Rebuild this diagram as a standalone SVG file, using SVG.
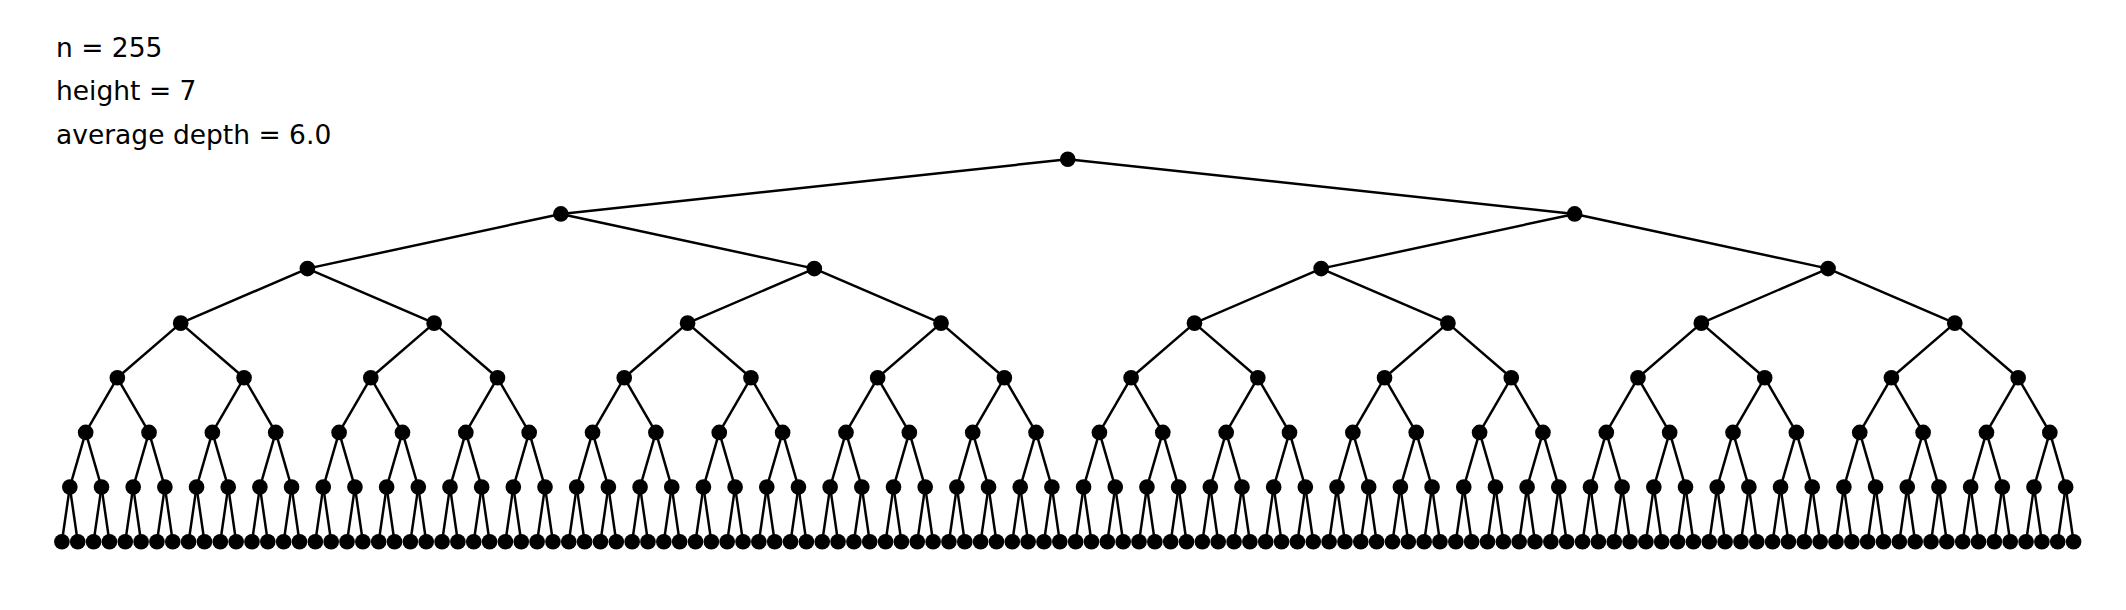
<svg xmlns="http://www.w3.org/2000/svg" width="2126" height="610" viewBox="0 0 2126 610">
<style>
.lbl{font-family:"DejaVu Sans","Liberation Sans",sans-serif;font-size:26.5px;fill:#000}
#edges path{stroke:#000;stroke-width:2.5;fill:none}
#nodes circle{fill:#000}
</style>
<rect width="2126" height="610" fill="#fff"/>
<g id="stats">
<text class="lbl" x="56" y="57.3">n = 255</text>
<text class="lbl" x="56" y="100.3">height = 7</text>
<text class="lbl" x="56" y="143.6">average depth = 6.0</text>
</g>
<g id="tree" transform="translate(61.9,0) scale(0.99)">
<g id="edges">
<path d="M1016 160.9 504 216.1"/><path d="M1016 160.9 1528 216.1"/>
<path d="M504 216.1 248 271.3"/><path d="M504 216.1 760 271.3"/><path d="M1528 216.1 1272 271.3"/><path d="M1528 216.1 1784 271.3"/>
<path d="M248 271.3 120 326.4"/><path d="M248 271.3 376 326.4"/><path d="M760 271.3 632 326.4"/><path d="M760 271.3 888 326.4"/><path d="M1272 271.3 1144 326.4"/><path d="M1272 271.3 1400 326.4"/><path d="M1784 271.3 1656 326.4"/><path d="M1784 271.3 1912 326.4"/>
<path d="M120 326.4 56 381.6"/><path d="M120 326.4 184 381.6"/><path d="M376 326.4 312 381.6"/><path d="M376 326.4 440 381.6"/><path d="M632 326.4 568 381.6"/><path d="M632 326.4 696 381.6"/><path d="M888 326.4 824 381.6"/><path d="M888 326.4 952 381.6"/><path d="M1144 326.4 1080 381.6"/><path d="M1144 326.4 1208 381.6"/><path d="M1400 326.4 1336 381.6"/><path d="M1400 326.4 1464 381.6"/><path d="M1656 326.4 1592 381.6"/><path d="M1656 326.4 1720 381.6"/><path d="M1912 326.4 1848 381.6"/><path d="M1912 326.4 1976 381.6"/>
<path d="M56 381.6 24 436.8"/><path d="M56 381.6 88 436.8"/><path d="M184 381.6 152 436.8"/><path d="M184 381.6 216 436.8"/><path d="M312 381.6 280 436.8"/><path d="M312 381.6 344 436.8"/><path d="M440 381.6 408 436.8"/><path d="M440 381.6 472 436.8"/><path d="M568 381.6 536 436.8"/><path d="M568 381.6 600 436.8"/><path d="M696 381.6 664 436.8"/><path d="M696 381.6 728 436.8"/><path d="M824 381.6 792 436.8"/><path d="M824 381.6 856 436.8"/><path d="M952 381.6 920 436.8"/><path d="M952 381.6 984 436.8"/><path d="M1080 381.6 1048 436.8"/><path d="M1080 381.6 1112 436.8"/><path d="M1208 381.6 1176 436.8"/><path d="M1208 381.6 1240 436.8"/><path d="M1336 381.6 1304 436.8"/><path d="M1336 381.6 1368 436.8"/><path d="M1464 381.6 1432 436.8"/><path d="M1464 381.6 1496 436.8"/><path d="M1592 381.6 1560 436.8"/><path d="M1592 381.6 1624 436.8"/><path d="M1720 381.6 1688 436.8"/><path d="M1720 381.6 1752 436.8"/><path d="M1848 381.6 1816 436.8"/><path d="M1848 381.6 1880 436.8"/><path d="M1976 381.6 1944 436.8"/><path d="M1976 381.6 2008 436.8"/>
<path d="M24 436.8 8 492"/><path d="M24 436.8 40 492"/><path d="M88 436.8 72 492"/><path d="M88 436.8 104 492"/><path d="M152 436.8 136 492"/><path d="M152 436.8 168 492"/><path d="M216 436.8 200 492"/><path d="M216 436.8 232 492"/><path d="M280 436.8 264 492"/><path d="M280 436.8 296 492"/><path d="M344 436.8 328 492"/><path d="M344 436.8 360 492"/><path d="M408 436.8 392 492"/><path d="M408 436.8 424 492"/><path d="M472 436.8 456 492"/><path d="M472 436.8 488 492"/><path d="M536 436.8 520 492"/><path d="M536 436.8 552 492"/><path d="M600 436.8 584 492"/><path d="M600 436.8 616 492"/><path d="M664 436.8 648 492"/><path d="M664 436.8 680 492"/><path d="M728 436.8 712 492"/><path d="M728 436.8 744 492"/><path d="M792 436.8 776 492"/><path d="M792 436.8 808 492"/><path d="M856 436.8 840 492"/><path d="M856 436.8 872 492"/><path d="M920 436.8 904 492"/><path d="M920 436.8 936 492"/><path d="M984 436.8 968 492"/><path d="M984 436.8 1000 492"/><path d="M1048 436.8 1032 492"/><path d="M1048 436.8 1064 492"/><path d="M1112 436.8 1096 492"/><path d="M1112 436.8 1128 492"/><path d="M1176 436.8 1160 492"/><path d="M1176 436.8 1192 492"/><path d="M1240 436.8 1224 492"/><path d="M1240 436.8 1256 492"/><path d="M1304 436.8 1288 492"/><path d="M1304 436.8 1320 492"/><path d="M1368 436.8 1352 492"/><path d="M1368 436.8 1384 492"/><path d="M1432 436.8 1416 492"/><path d="M1432 436.8 1448 492"/><path d="M1496 436.8 1480 492"/><path d="M1496 436.8 1512 492"/><path d="M1560 436.8 1544 492"/><path d="M1560 436.8 1576 492"/><path d="M1624 436.8 1608 492"/><path d="M1624 436.8 1640 492"/><path d="M1688 436.8 1672 492"/><path d="M1688 436.8 1704 492"/><path d="M1752 436.8 1736 492"/><path d="M1752 436.8 1768 492"/><path d="M1816 436.8 1800 492"/><path d="M1816 436.8 1832 492"/><path d="M1880 436.8 1864 492"/><path d="M1880 436.8 1896 492"/><path d="M1944 436.8 1928 492"/><path d="M1944 436.8 1960 492"/><path d="M2008 436.8 1992 492"/><path d="M2008 436.8 2024 492"/>
<path d="M8 492 0 547.2"/><path d="M8 492 16 547.2"/><path d="M40 492 32 547.2"/><path d="M40 492 48 547.2"/><path d="M72 492 64 547.2"/><path d="M72 492 80 547.2"/><path d="M104 492 96 547.2"/><path d="M104 492 112 547.2"/><path d="M136 492 128 547.2"/><path d="M136 492 144 547.2"/><path d="M168 492 160 547.2"/><path d="M168 492 176 547.2"/><path d="M200 492 192 547.2"/><path d="M200 492 208 547.2"/><path d="M232 492 224 547.2"/><path d="M232 492 240 547.2"/><path d="M264 492 256 547.2"/><path d="M264 492 272 547.2"/><path d="M296 492 288 547.2"/><path d="M296 492 304 547.2"/><path d="M328 492 320 547.2"/><path d="M328 492 336 547.2"/><path d="M360 492 352 547.2"/><path d="M360 492 368 547.2"/><path d="M392 492 384 547.2"/><path d="M392 492 400 547.2"/><path d="M424 492 416 547.2"/><path d="M424 492 432 547.2"/><path d="M456 492 448 547.2"/><path d="M456 492 464 547.2"/><path d="M488 492 480 547.2"/><path d="M488 492 496 547.2"/><path d="M520 492 512 547.2"/><path d="M520 492 528 547.2"/><path d="M552 492 544 547.2"/><path d="M552 492 560 547.2"/><path d="M584 492 576 547.2"/><path d="M584 492 592 547.2"/><path d="M616 492 608 547.2"/><path d="M616 492 624 547.2"/><path d="M648 492 640 547.2"/><path d="M648 492 656 547.2"/><path d="M680 492 672 547.2"/><path d="M680 492 688 547.2"/><path d="M712 492 704 547.2"/><path d="M712 492 720 547.2"/><path d="M744 492 736 547.2"/><path d="M744 492 752 547.2"/><path d="M776 492 768 547.2"/><path d="M776 492 784 547.2"/><path d="M808 492 800 547.2"/><path d="M808 492 816 547.2"/><path d="M840 492 832 547.2"/><path d="M840 492 848 547.2"/><path d="M872 492 864 547.2"/><path d="M872 492 880 547.2"/><path d="M904 492 896 547.2"/><path d="M904 492 912 547.2"/><path d="M936 492 928 547.2"/><path d="M936 492 944 547.2"/><path d="M968 492 960 547.2"/><path d="M968 492 976 547.2"/><path d="M1000 492 992 547.2"/><path d="M1000 492 1008 547.2"/><path d="M1032 492 1024 547.2"/><path d="M1032 492 1040 547.2"/><path d="M1064 492 1056 547.2"/><path d="M1064 492 1072 547.2"/><path d="M1096 492 1088 547.2"/><path d="M1096 492 1104 547.2"/><path d="M1128 492 1120 547.2"/><path d="M1128 492 1136 547.2"/><path d="M1160 492 1152 547.2"/><path d="M1160 492 1168 547.2"/><path d="M1192 492 1184 547.2"/><path d="M1192 492 1200 547.2"/><path d="M1224 492 1216 547.2"/><path d="M1224 492 1232 547.2"/><path d="M1256 492 1248 547.2"/><path d="M1256 492 1264 547.2"/><path d="M1288 492 1280 547.2"/><path d="M1288 492 1296 547.2"/><path d="M1320 492 1312 547.2"/><path d="M1320 492 1328 547.2"/><path d="M1352 492 1344 547.2"/><path d="M1352 492 1360 547.2"/><path d="M1384 492 1376 547.2"/><path d="M1384 492 1392 547.2"/><path d="M1416 492 1408 547.2"/><path d="M1416 492 1424 547.2"/><path d="M1448 492 1440 547.2"/><path d="M1448 492 1456 547.2"/><path d="M1480 492 1472 547.2"/><path d="M1480 492 1488 547.2"/><path d="M1512 492 1504 547.2"/><path d="M1512 492 1520 547.2"/><path d="M1544 492 1536 547.2"/><path d="M1544 492 1552 547.2"/><path d="M1576 492 1568 547.2"/><path d="M1576 492 1584 547.2"/><path d="M1608 492 1600 547.2"/><path d="M1608 492 1616 547.2"/><path d="M1640 492 1632 547.2"/><path d="M1640 492 1648 547.2"/><path d="M1672 492 1664 547.2"/><path d="M1672 492 1680 547.2"/><path d="M1704 492 1696 547.2"/><path d="M1704 492 1712 547.2"/><path d="M1736 492 1728 547.2"/><path d="M1736 492 1744 547.2"/><path d="M1768 492 1760 547.2"/><path d="M1768 492 1776 547.2"/><path d="M1800 492 1792 547.2"/><path d="M1800 492 1808 547.2"/><path d="M1832 492 1824 547.2"/><path d="M1832 492 1840 547.2"/><path d="M1864 492 1856 547.2"/><path d="M1864 492 1872 547.2"/><path d="M1896 492 1888 547.2"/><path d="M1896 492 1904 547.2"/><path d="M1928 492 1920 547.2"/><path d="M1928 492 1936 547.2"/><path d="M1960 492 1952 547.2"/><path d="M1960 492 1968 547.2"/><path d="M1992 492 1984 547.2"/><path d="M1992 492 2000 547.2"/><path d="M2024 492 2016 547.2"/><path d="M2024 492 2032 547.2"/>
</g>
<g id="nodes">
<g id="n0-0"><circle cx="1016" cy="160.9" r="7.9"/></g>
<g id="n1-0"><circle cx="504" cy="216.1" r="7.9"/></g><g id="n1-1"><circle cx="1528" cy="216.1" r="7.9"/></g>
<g id="n2-0"><circle cx="248" cy="271.3" r="7.9"/></g><g id="n2-1"><circle cx="760" cy="271.3" r="7.9"/></g><g id="n2-2"><circle cx="1272" cy="271.3" r="7.9"/></g><g id="n2-3"><circle cx="1784" cy="271.3" r="7.9"/></g>
<g id="n3-0"><circle cx="120" cy="326.4" r="7.9"/></g><g id="n3-1"><circle cx="376" cy="326.4" r="7.9"/></g><g id="n3-2"><circle cx="632" cy="326.4" r="7.9"/></g><g id="n3-3"><circle cx="888" cy="326.4" r="7.9"/></g><g id="n3-4"><circle cx="1144" cy="326.4" r="7.9"/></g><g id="n3-5"><circle cx="1400" cy="326.4" r="7.9"/></g><g id="n3-6"><circle cx="1656" cy="326.4" r="7.9"/></g><g id="n3-7"><circle cx="1912" cy="326.4" r="7.9"/></g>
<g id="n4-0"><circle cx="56" cy="381.6" r="7.9"/></g><g id="n4-1"><circle cx="184" cy="381.6" r="7.9"/></g><g id="n4-2"><circle cx="312" cy="381.6" r="7.9"/></g><g id="n4-3"><circle cx="440" cy="381.6" r="7.9"/></g><g id="n4-4"><circle cx="568" cy="381.6" r="7.9"/></g><g id="n4-5"><circle cx="696" cy="381.6" r="7.9"/></g><g id="n4-6"><circle cx="824" cy="381.6" r="7.9"/></g><g id="n4-7"><circle cx="952" cy="381.6" r="7.9"/></g><g id="n4-8"><circle cx="1080" cy="381.6" r="7.9"/></g><g id="n4-9"><circle cx="1208" cy="381.6" r="7.9"/></g><g id="n4-10"><circle cx="1336" cy="381.6" r="7.9"/></g><g id="n4-11"><circle cx="1464" cy="381.6" r="7.9"/></g><g id="n4-12"><circle cx="1592" cy="381.6" r="7.9"/></g><g id="n4-13"><circle cx="1720" cy="381.6" r="7.9"/></g><g id="n4-14"><circle cx="1848" cy="381.6" r="7.9"/></g><g id="n4-15"><circle cx="1976" cy="381.6" r="7.9"/></g>
<g id="n5-0"><circle cx="24" cy="436.8" r="7.9"/></g><g id="n5-1"><circle cx="88" cy="436.8" r="7.9"/></g><g id="n5-2"><circle cx="152" cy="436.8" r="7.9"/></g><g id="n5-3"><circle cx="216" cy="436.8" r="7.9"/></g><g id="n5-4"><circle cx="280" cy="436.8" r="7.9"/></g><g id="n5-5"><circle cx="344" cy="436.8" r="7.9"/></g><g id="n5-6"><circle cx="408" cy="436.8" r="7.9"/></g><g id="n5-7"><circle cx="472" cy="436.8" r="7.9"/></g><g id="n5-8"><circle cx="536" cy="436.8" r="7.9"/></g><g id="n5-9"><circle cx="600" cy="436.8" r="7.9"/></g><g id="n5-10"><circle cx="664" cy="436.8" r="7.9"/></g><g id="n5-11"><circle cx="728" cy="436.8" r="7.9"/></g><g id="n5-12"><circle cx="792" cy="436.8" r="7.9"/></g><g id="n5-13"><circle cx="856" cy="436.8" r="7.9"/></g><g id="n5-14"><circle cx="920" cy="436.8" r="7.9"/></g><g id="n5-15"><circle cx="984" cy="436.8" r="7.9"/></g><g id="n5-16"><circle cx="1048" cy="436.8" r="7.9"/></g><g id="n5-17"><circle cx="1112" cy="436.8" r="7.9"/></g><g id="n5-18"><circle cx="1176" cy="436.8" r="7.9"/></g><g id="n5-19"><circle cx="1240" cy="436.8" r="7.9"/></g><g id="n5-20"><circle cx="1304" cy="436.8" r="7.9"/></g><g id="n5-21"><circle cx="1368" cy="436.8" r="7.9"/></g><g id="n5-22"><circle cx="1432" cy="436.8" r="7.9"/></g><g id="n5-23"><circle cx="1496" cy="436.8" r="7.9"/></g><g id="n5-24"><circle cx="1560" cy="436.8" r="7.9"/></g><g id="n5-25"><circle cx="1624" cy="436.8" r="7.9"/></g><g id="n5-26"><circle cx="1688" cy="436.8" r="7.9"/></g><g id="n5-27"><circle cx="1752" cy="436.8" r="7.9"/></g><g id="n5-28"><circle cx="1816" cy="436.8" r="7.9"/></g><g id="n5-29"><circle cx="1880" cy="436.8" r="7.9"/></g><g id="n5-30"><circle cx="1944" cy="436.8" r="7.9"/></g><g id="n5-31"><circle cx="2008" cy="436.8" r="7.9"/></g>
<g id="n6-0"><circle cx="8" cy="492" r="7.9"/></g><g id="n6-1"><circle cx="40" cy="492" r="7.9"/></g><g id="n6-2"><circle cx="72" cy="492" r="7.9"/></g><g id="n6-3"><circle cx="104" cy="492" r="7.9"/></g><g id="n6-4"><circle cx="136" cy="492" r="7.9"/></g><g id="n6-5"><circle cx="168" cy="492" r="7.9"/></g><g id="n6-6"><circle cx="200" cy="492" r="7.9"/></g><g id="n6-7"><circle cx="232" cy="492" r="7.9"/></g><g id="n6-8"><circle cx="264" cy="492" r="7.9"/></g><g id="n6-9"><circle cx="296" cy="492" r="7.9"/></g><g id="n6-10"><circle cx="328" cy="492" r="7.9"/></g><g id="n6-11"><circle cx="360" cy="492" r="7.9"/></g><g id="n6-12"><circle cx="392" cy="492" r="7.9"/></g><g id="n6-13"><circle cx="424" cy="492" r="7.9"/></g><g id="n6-14"><circle cx="456" cy="492" r="7.9"/></g><g id="n6-15"><circle cx="488" cy="492" r="7.9"/></g><g id="n6-16"><circle cx="520" cy="492" r="7.9"/></g><g id="n6-17"><circle cx="552" cy="492" r="7.9"/></g><g id="n6-18"><circle cx="584" cy="492" r="7.9"/></g><g id="n6-19"><circle cx="616" cy="492" r="7.9"/></g><g id="n6-20"><circle cx="648" cy="492" r="7.9"/></g><g id="n6-21"><circle cx="680" cy="492" r="7.9"/></g><g id="n6-22"><circle cx="712" cy="492" r="7.9"/></g><g id="n6-23"><circle cx="744" cy="492" r="7.9"/></g><g id="n6-24"><circle cx="776" cy="492" r="7.9"/></g><g id="n6-25"><circle cx="808" cy="492" r="7.9"/></g><g id="n6-26"><circle cx="840" cy="492" r="7.9"/></g><g id="n6-27"><circle cx="872" cy="492" r="7.9"/></g><g id="n6-28"><circle cx="904" cy="492" r="7.9"/></g><g id="n6-29"><circle cx="936" cy="492" r="7.9"/></g><g id="n6-30"><circle cx="968" cy="492" r="7.9"/></g><g id="n6-31"><circle cx="1000" cy="492" r="7.9"/></g><g id="n6-32"><circle cx="1032" cy="492" r="7.9"/></g><g id="n6-33"><circle cx="1064" cy="492" r="7.9"/></g><g id="n6-34"><circle cx="1096" cy="492" r="7.9"/></g><g id="n6-35"><circle cx="1128" cy="492" r="7.9"/></g><g id="n6-36"><circle cx="1160" cy="492" r="7.9"/></g><g id="n6-37"><circle cx="1192" cy="492" r="7.9"/></g><g id="n6-38"><circle cx="1224" cy="492" r="7.9"/></g><g id="n6-39"><circle cx="1256" cy="492" r="7.9"/></g><g id="n6-40"><circle cx="1288" cy="492" r="7.9"/></g><g id="n6-41"><circle cx="1320" cy="492" r="7.9"/></g><g id="n6-42"><circle cx="1352" cy="492" r="7.9"/></g><g id="n6-43"><circle cx="1384" cy="492" r="7.9"/></g><g id="n6-44"><circle cx="1416" cy="492" r="7.9"/></g><g id="n6-45"><circle cx="1448" cy="492" r="7.9"/></g><g id="n6-46"><circle cx="1480" cy="492" r="7.9"/></g><g id="n6-47"><circle cx="1512" cy="492" r="7.9"/></g><g id="n6-48"><circle cx="1544" cy="492" r="7.9"/></g><g id="n6-49"><circle cx="1576" cy="492" r="7.9"/></g><g id="n6-50"><circle cx="1608" cy="492" r="7.9"/></g><g id="n6-51"><circle cx="1640" cy="492" r="7.9"/></g><g id="n6-52"><circle cx="1672" cy="492" r="7.9"/></g><g id="n6-53"><circle cx="1704" cy="492" r="7.9"/></g><g id="n6-54"><circle cx="1736" cy="492" r="7.9"/></g><g id="n6-55"><circle cx="1768" cy="492" r="7.9"/></g><g id="n6-56"><circle cx="1800" cy="492" r="7.9"/></g><g id="n6-57"><circle cx="1832" cy="492" r="7.9"/></g><g id="n6-58"><circle cx="1864" cy="492" r="7.9"/></g><g id="n6-59"><circle cx="1896" cy="492" r="7.9"/></g><g id="n6-60"><circle cx="1928" cy="492" r="7.9"/></g><g id="n6-61"><circle cx="1960" cy="492" r="7.9"/></g><g id="n6-62"><circle cx="1992" cy="492" r="7.9"/></g><g id="n6-63"><circle cx="2024" cy="492" r="7.9"/></g>
<g id="n7-0"><circle cx="0" cy="547.2" r="7.9"/></g><g id="n7-1"><circle cx="16" cy="547.2" r="7.9"/></g><g id="n7-2"><circle cx="32" cy="547.2" r="7.9"/></g><g id="n7-3"><circle cx="48" cy="547.2" r="7.9"/></g><g id="n7-4"><circle cx="64" cy="547.2" r="7.9"/></g><g id="n7-5"><circle cx="80" cy="547.2" r="7.9"/></g><g id="n7-6"><circle cx="96" cy="547.2" r="7.9"/></g><g id="n7-7"><circle cx="112" cy="547.2" r="7.9"/></g><g id="n7-8"><circle cx="128" cy="547.2" r="7.9"/></g><g id="n7-9"><circle cx="144" cy="547.2" r="7.9"/></g><g id="n7-10"><circle cx="160" cy="547.2" r="7.9"/></g><g id="n7-11"><circle cx="176" cy="547.2" r="7.9"/></g><g id="n7-12"><circle cx="192" cy="547.2" r="7.9"/></g><g id="n7-13"><circle cx="208" cy="547.2" r="7.9"/></g><g id="n7-14"><circle cx="224" cy="547.2" r="7.9"/></g><g id="n7-15"><circle cx="240" cy="547.2" r="7.9"/></g><g id="n7-16"><circle cx="256" cy="547.2" r="7.9"/></g><g id="n7-17"><circle cx="272" cy="547.2" r="7.9"/></g><g id="n7-18"><circle cx="288" cy="547.2" r="7.9"/></g><g id="n7-19"><circle cx="304" cy="547.2" r="7.9"/></g><g id="n7-20"><circle cx="320" cy="547.2" r="7.9"/></g><g id="n7-21"><circle cx="336" cy="547.2" r="7.9"/></g><g id="n7-22"><circle cx="352" cy="547.2" r="7.9"/></g><g id="n7-23"><circle cx="368" cy="547.2" r="7.9"/></g><g id="n7-24"><circle cx="384" cy="547.2" r="7.9"/></g><g id="n7-25"><circle cx="400" cy="547.2" r="7.9"/></g><g id="n7-26"><circle cx="416" cy="547.2" r="7.9"/></g><g id="n7-27"><circle cx="432" cy="547.2" r="7.9"/></g><g id="n7-28"><circle cx="448" cy="547.2" r="7.9"/></g><g id="n7-29"><circle cx="464" cy="547.2" r="7.9"/></g><g id="n7-30"><circle cx="480" cy="547.2" r="7.9"/></g><g id="n7-31"><circle cx="496" cy="547.2" r="7.9"/></g><g id="n7-32"><circle cx="512" cy="547.2" r="7.9"/></g><g id="n7-33"><circle cx="528" cy="547.2" r="7.9"/></g><g id="n7-34"><circle cx="544" cy="547.2" r="7.9"/></g><g id="n7-35"><circle cx="560" cy="547.2" r="7.9"/></g><g id="n7-36"><circle cx="576" cy="547.2" r="7.9"/></g><g id="n7-37"><circle cx="592" cy="547.2" r="7.9"/></g><g id="n7-38"><circle cx="608" cy="547.2" r="7.9"/></g><g id="n7-39"><circle cx="624" cy="547.2" r="7.9"/></g><g id="n7-40"><circle cx="640" cy="547.2" r="7.9"/></g><g id="n7-41"><circle cx="656" cy="547.2" r="7.9"/></g><g id="n7-42"><circle cx="672" cy="547.2" r="7.9"/></g><g id="n7-43"><circle cx="688" cy="547.2" r="7.9"/></g><g id="n7-44"><circle cx="704" cy="547.2" r="7.9"/></g><g id="n7-45"><circle cx="720" cy="547.2" r="7.9"/></g><g id="n7-46"><circle cx="736" cy="547.2" r="7.9"/></g><g id="n7-47"><circle cx="752" cy="547.2" r="7.9"/></g><g id="n7-48"><circle cx="768" cy="547.2" r="7.9"/></g><g id="n7-49"><circle cx="784" cy="547.2" r="7.9"/></g><g id="n7-50"><circle cx="800" cy="547.2" r="7.9"/></g><g id="n7-51"><circle cx="816" cy="547.2" r="7.9"/></g><g id="n7-52"><circle cx="832" cy="547.2" r="7.9"/></g><g id="n7-53"><circle cx="848" cy="547.2" r="7.9"/></g><g id="n7-54"><circle cx="864" cy="547.2" r="7.9"/></g><g id="n7-55"><circle cx="880" cy="547.2" r="7.9"/></g><g id="n7-56"><circle cx="896" cy="547.2" r="7.9"/></g><g id="n7-57"><circle cx="912" cy="547.2" r="7.9"/></g><g id="n7-58"><circle cx="928" cy="547.2" r="7.9"/></g><g id="n7-59"><circle cx="944" cy="547.2" r="7.9"/></g><g id="n7-60"><circle cx="960" cy="547.2" r="7.9"/></g><g id="n7-61"><circle cx="976" cy="547.2" r="7.9"/></g><g id="n7-62"><circle cx="992" cy="547.2" r="7.9"/></g><g id="n7-63"><circle cx="1008" cy="547.2" r="7.9"/></g><g id="n7-64"><circle cx="1024" cy="547.2" r="7.9"/></g><g id="n7-65"><circle cx="1040" cy="547.2" r="7.9"/></g><g id="n7-66"><circle cx="1056" cy="547.2" r="7.9"/></g><g id="n7-67"><circle cx="1072" cy="547.2" r="7.9"/></g><g id="n7-68"><circle cx="1088" cy="547.2" r="7.9"/></g><g id="n7-69"><circle cx="1104" cy="547.2" r="7.9"/></g><g id="n7-70"><circle cx="1120" cy="547.2" r="7.9"/></g><g id="n7-71"><circle cx="1136" cy="547.2" r="7.9"/></g><g id="n7-72"><circle cx="1152" cy="547.2" r="7.9"/></g><g id="n7-73"><circle cx="1168" cy="547.2" r="7.9"/></g><g id="n7-74"><circle cx="1184" cy="547.2" r="7.9"/></g><g id="n7-75"><circle cx="1200" cy="547.2" r="7.9"/></g><g id="n7-76"><circle cx="1216" cy="547.2" r="7.9"/></g><g id="n7-77"><circle cx="1232" cy="547.2" r="7.9"/></g><g id="n7-78"><circle cx="1248" cy="547.2" r="7.9"/></g><g id="n7-79"><circle cx="1264" cy="547.2" r="7.9"/></g><g id="n7-80"><circle cx="1280" cy="547.2" r="7.9"/></g><g id="n7-81"><circle cx="1296" cy="547.2" r="7.9"/></g><g id="n7-82"><circle cx="1312" cy="547.2" r="7.9"/></g><g id="n7-83"><circle cx="1328" cy="547.2" r="7.9"/></g><g id="n7-84"><circle cx="1344" cy="547.2" r="7.9"/></g><g id="n7-85"><circle cx="1360" cy="547.2" r="7.9"/></g><g id="n7-86"><circle cx="1376" cy="547.2" r="7.9"/></g><g id="n7-87"><circle cx="1392" cy="547.2" r="7.9"/></g><g id="n7-88"><circle cx="1408" cy="547.2" r="7.9"/></g><g id="n7-89"><circle cx="1424" cy="547.2" r="7.9"/></g><g id="n7-90"><circle cx="1440" cy="547.2" r="7.9"/></g><g id="n7-91"><circle cx="1456" cy="547.2" r="7.9"/></g><g id="n7-92"><circle cx="1472" cy="547.2" r="7.9"/></g><g id="n7-93"><circle cx="1488" cy="547.2" r="7.9"/></g><g id="n7-94"><circle cx="1504" cy="547.2" r="7.9"/></g><g id="n7-95"><circle cx="1520" cy="547.2" r="7.9"/></g><g id="n7-96"><circle cx="1536" cy="547.2" r="7.9"/></g><g id="n7-97"><circle cx="1552" cy="547.2" r="7.9"/></g><g id="n7-98"><circle cx="1568" cy="547.2" r="7.9"/></g><g id="n7-99"><circle cx="1584" cy="547.2" r="7.9"/></g><g id="n7-100"><circle cx="1600" cy="547.2" r="7.9"/></g><g id="n7-101"><circle cx="1616" cy="547.2" r="7.9"/></g><g id="n7-102"><circle cx="1632" cy="547.2" r="7.9"/></g><g id="n7-103"><circle cx="1648" cy="547.2" r="7.9"/></g><g id="n7-104"><circle cx="1664" cy="547.2" r="7.9"/></g><g id="n7-105"><circle cx="1680" cy="547.2" r="7.9"/></g><g id="n7-106"><circle cx="1696" cy="547.2" r="7.9"/></g><g id="n7-107"><circle cx="1712" cy="547.2" r="7.9"/></g><g id="n7-108"><circle cx="1728" cy="547.2" r="7.9"/></g><g id="n7-109"><circle cx="1744" cy="547.2" r="7.9"/></g><g id="n7-110"><circle cx="1760" cy="547.2" r="7.9"/></g><g id="n7-111"><circle cx="1776" cy="547.2" r="7.9"/></g><g id="n7-112"><circle cx="1792" cy="547.2" r="7.9"/></g><g id="n7-113"><circle cx="1808" cy="547.2" r="7.9"/></g><g id="n7-114"><circle cx="1824" cy="547.2" r="7.9"/></g><g id="n7-115"><circle cx="1840" cy="547.2" r="7.9"/></g><g id="n7-116"><circle cx="1856" cy="547.2" r="7.9"/></g><g id="n7-117"><circle cx="1872" cy="547.2" r="7.9"/></g><g id="n7-118"><circle cx="1888" cy="547.2" r="7.9"/></g><g id="n7-119"><circle cx="1904" cy="547.2" r="7.9"/></g><g id="n7-120"><circle cx="1920" cy="547.2" r="7.9"/></g><g id="n7-121"><circle cx="1936" cy="547.2" r="7.9"/></g><g id="n7-122"><circle cx="1952" cy="547.2" r="7.9"/></g><g id="n7-123"><circle cx="1968" cy="547.2" r="7.9"/></g><g id="n7-124"><circle cx="1984" cy="547.2" r="7.9"/></g><g id="n7-125"><circle cx="2000" cy="547.2" r="7.9"/></g><g id="n7-126"><circle cx="2016" cy="547.2" r="7.9"/></g><g id="n7-127"><circle cx="2032" cy="547.2" r="7.9"/></g>
</g>
</g>
</svg>
